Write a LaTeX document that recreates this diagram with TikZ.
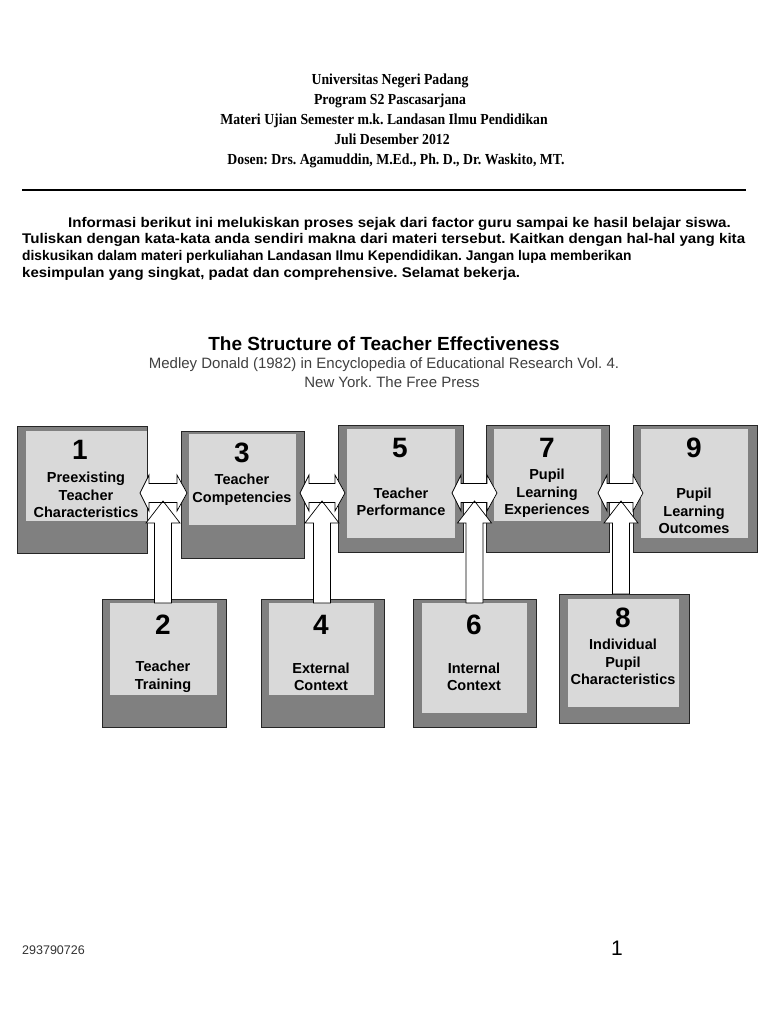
\documentclass[tikz,border=0pt]{standalone}
\usepackage{fontspec}
\setmainfont{Liberation Serif}
\setsansfont{Liberation Sans}
\frenchspacing
\tikzset{
  outerbox/.style={draw=black!85, fill=black!50, line width=0.8pt},
  innerbox/.style={fill=black!15},
  num/.style={font=\sffamily\bfseries\fontsize{28}{30}\selectfont},
  lbl/.style={font=\sffamily\bfseries\fontsize{14.5}{17.5}\selectfont, align=center, inner sep=0pt},
  hdr/.style={font=\bfseries\fontsize{15.3}{16}\selectfont, anchor=base, inner sep=0pt},
  para/.style={font=\sffamily\bfseries\fontsize{14}{16}\selectfont, anchor=base west, inner sep=0pt},
  src/.style={font=\sffamily\fontsize{15}{16}\selectfont, text=black!75, anchor=base, inner sep=0pt},
  blockfill/.style={fill=white},
  blockline/.style={draw=black, line width=0.7pt, line join=miter},
}
% double block arrow: left tip, right tip, middle y
\newcommand\hblock[4][]{\path[#1] (#2,#4) -- (#2+9,#4-18) -- (#2+9,#4-9.5) -- (#3-10,#4-9.5)
  -- (#3-10,#4-18) -- (#3,#4) -- (#3-10,#4+18) -- (#3-10,#4+9.5) -- (#2+9,#4+9.5) -- (#2+9,#4+18) -- cycle;}
% upward block arrow: middle x, tip y, foot y
\newcommand\vblock[4][]{\path[#1] (#2,#3) -- (#2+17,#3+22) -- (#2+8.5,#3+22) -- (#2+8.5,#4)
  -- (#2-8.5,#4) -- (#2-8.5,#3+22) -- (#2-17,#3+22) -- cycle;}
\begin{document}
\begin{tikzpicture}[x=1pt,y=-1pt]
\fill[white] (0,0) rectangle (768,1024);
\useasboundingbox (0,0) rectangle (768,1024);

% heading
\node[hdr] (h1) at (390,85) {\scalebox{0.9}[1]{Universitas Negeri Padang}};
\node[hdr] (h2) at (390,105) {\scalebox{0.9}[1]{Program S2 Pascasarjana}};
\node[hdr] (h3) at (384,125) {\scalebox{0.9}[1]{Materi Ujian Semester m.k. Landasan Ilmu Pendidikan}};
\node[hdr] (h4) at (392,145) {\scalebox{0.9}[1]{Juli Desember 2012}};
\node[hdr] (h5) at (396,165) {\scalebox{0.9}[1]{Dosen: Drs. Agamuddin, M.Ed., Ph. D., Dr. Waskito, MT.}};
\coordinate (r1) at (22,190);
\coordinate (r2) at (746,190);
\draw[line width=2.5pt] (r1) -- (r2);

% task text
\node[para] (p1) at (68,227) {\scalebox{1.082}[1]{Informasi berikut ini melukiskan proses sejak dari factor guru sampai ke hasil belajar siswa.}};
\node[para] (p2) at (22,243.5) {\scalebox{1.081}[1]{Tuliskan dengan kata-kata anda sendiri makna dari materi tersebut. Kaitkan dengan hal-hal yang kita}};
\node[para] (p3) at (22,260) {\scalebox{0.985}[1]{diskusikan dalam materi perkuliahan Landasan Ilmu Kependidikan. Jangan lupa memberikan}};
\node[para] (p4) at (22,277) {\scalebox{1.07}[1]{kesimpulan yang singkat, padat dan comprehensive. Selamat bekerja.}};

% title
\node[font=\sffamily\bfseries\fontsize{19}{20}\selectfont, anchor=base, inner sep=0pt] (title) at (384,350) {The Structure of Teacher Effectiveness};
\node[src] (src1) at (384,368) {Medley Donald (1982) in Encyclopedia of Educational Research Vol. 4.};
\node[src] (src2) at (392,387) {New York. The Free Press};

% boxes
\draw[outerbox] (17,426) rectangle (147,553);  \fill[innerbox] (26,431) rectangle (147,521);
\draw[outerbox] (181,431) rectangle (304,558); \fill[innerbox] (189,434) rectangle (296,525);
\draw[outerbox] (338,425) rectangle (463,552); \fill[innerbox] (347,429) rectangle (455,538);
\draw[outerbox] (486,425) rectangle (609,552); \fill[innerbox] (494,429) rectangle (601,521);
\draw[outerbox] (633,425) rectangle (757,552); \fill[innerbox] (641,429) rectangle (748,538);
\draw[outerbox] (102,599) rectangle (226,727); \fill[innerbox] (110,603) rectangle (217,695);
\draw[outerbox] (261,599) rectangle (384,727); \fill[innerbox] (269,603) rectangle (374,695);
\draw[outerbox] (413,599) rectangle (536,727); \fill[innerbox] (422,603) rectangle (527,713);
\draw[outerbox] (559,594) rectangle (689,723); \fill[innerbox] (568,599) rectangle (679,707);

\node[num] (n1) at (80,450) {1};   \node[lbl] (t1) at (86,495) {Preexisting\\Teacher\\Characteristics};
\node[num] (n3) at (242,453) {3};  \node[lbl] (t3) at (242,489.5) {Teacher\\Competencies};
\node[num] (n5) at (400,448) {5};  \node[lbl] (t5) at (401,502) {Teacher\\Performance};
\node[num] (n7) at (547,448) {7};  \node[lbl] (t7) at (547,493.5) {Pupil\\Learning\\Experiences};
\node[num] (n9) at (694,448) {9};  \node[lbl] (t9) at (694,511) {Pupil\\Learning\\Outcomes};
\node[num] (n2) at (163,625) {2};  \node[lbl] (t2) at (163,677) {Teacher\\Training};
\node[num] (n4) at (321,625) {4};  \node[lbl] (t4) at (321,677) {External\\Context};
\node[num] (n6) at (474,625) {6};  \node[lbl] (t6) at (474,677) {Internal\\Context};
\node[num] (n8) at (623,618) {8};  \node[lbl] (t8) at (623,662) {Individual\\Pupil\\Characteristics};

% block arrows
\hblock[blockfill]{140}{187}{493} \hblock[blockfill]{300}{345}{493}
\hblock[blockfill]{452}{497}{493} \hblock[blockfill]{598}{643}{493}
\vblock[blockfill]{163}{501}{603} \vblock[blockfill]{322}{501}{603}
\vblock[blockfill]{474.5}{501}{603} \vblock[blockfill]{621}{501}{594}
\hblock[blockline]{140}{187}{493} \hblock[blockline]{300}{345}{493}
\hblock[blockline]{452}{497}{493} \hblock[blockline]{598}{643}{493}
\vblock[blockline]{163}{501}{603} \vblock[blockline]{322}{501}{603}
\vblock[blockline]{474.5}{501}{603} \vblock[blockline]{621}{501}{594}

% footer
\node[font=\sffamily\fontsize{12.5}{13}\selectfont, text=black!80, anchor=west, inner sep=0pt] (code) at (22,950) {293790726};
\node[font=\sffamily\fontsize{21}{22}\selectfont, inner sep=0pt] (page) at (617,948) {1};
\end{tikzpicture}
\end{document}
